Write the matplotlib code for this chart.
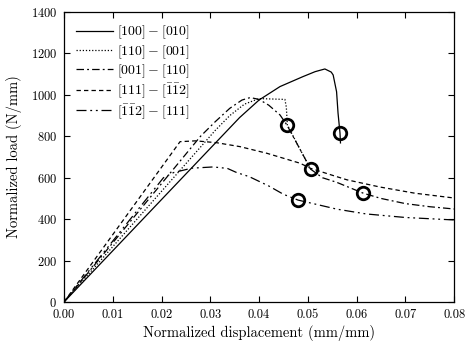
import matplotlib
matplotlib.use("Agg")
import matplotlib.pyplot as plt

plt.rcParams['font.family'] = 'serif'
plt.rcParams['font.serif'] = ['cmr10']
plt.rcParams['mathtext.fontset'] = 'cm'
plt.rcParams['axes.formatter.use_mathtext'] = True

# [100]-[010]
x_a = [0, 0.036, 0.040, 0.0443, 0.049, 0.0515, 0.0535, 0.0548, 0.0552, 0.0559, 0.0562, 0.0566, 0.0567]
y_a = [0, 890, 975, 1040, 1088, 1112, 1125, 1110, 1096, 1015, 912, 816, 768]
# [110]-[001]
x_b = [0, 0.031, 0.034, 0.037, 0.040, 0.0453, 0.0456, 0.0458, 0.048, 0.0506]
y_b = [0, 828, 900, 955, 982, 978, 940, 855, 755, 641]
# [001]-[110]
x_c = [0, 0.028, 0.031, 0.034, 0.0365, 0.0382, 0.040, 0.042, 0.0443, 0.0457, 0.048, 0.0506,
       0.053, 0.0559, 0.0614, 0.065, 0.070, 0.075, 0.080]
y_c = [0, 800, 870, 935, 975, 987, 978, 950, 903, 855, 755, 641,
       600, 578, 525, 500, 475, 460, 449]
# [111]-[-1-12]
x_d = [0, 0.0238, 0.027, 0.0313, 0.0361, 0.0416, 0.0484, 0.0506, 0.055, 0.058, 0.0648, 0.072, 0.080]
y_d = [0, 774, 778, 769, 750, 718, 670, 645, 612, 590, 555, 525, 502]
# [-1-12]-[111]
x_e = [0, 0.0204, 0.0225, 0.0262, 0.0306, 0.0335, 0.0354, 0.038, 0.042, 0.045, 0.048, 0.052,
       0.056, 0.062, 0.070, 0.080]
y_e = [0, 600, 625, 646, 652, 645, 625, 605, 560, 520, 492, 470,
       448, 425, 408, 396]

# circle markers
x_o = [0.0566, 0.0457, 0.0506, 0.0614, 0.048]
y_o = [816, 855, 643, 525, 492]

labels = [r'$[100]-[010]$', r'$[110]-[001]$', r'$[001]-[110]$',
          r'$[111]-[\bar{1}\bar{1}2]$', r'$[\bar{1}\bar{1}2]-[111]$']

fig = plt.figure(figsize=(4.74, 3.53), dpi=100)
ax = fig.add_axes([0.135, 0.1445, 0.823, 0.8215])

lw = 0.9
ax.plot(x_a, y_a, color='black', lw=lw, ls='-', label=labels[0])
ax.plot(x_b, y_b, color='black', lw=lw, ls=(0, (1, 1.5)), label=labels[1])
ax.plot(x_c, y_c, color='black', lw=lw, ls=(0, (6, 2.5, 1.5, 2.5)), label=labels[2])
ax.plot(x_d, y_d, color='black', lw=lw, ls=(0, (3.5, 2.5)), label=labels[3])
ax.plot(x_e, y_e, color='black', lw=lw, ls=(0, (8, 3, 1.5, 3, 1.5, 3)), label=labels[4])
ax.plot(x_o, y_o, ls='none', marker='o', ms=9, mfc='none', mec='black', mew=2)

ax.set_xlim(0, 0.08)
ax.set_ylim(0, 1400)
ax.set_xticks([0, 0.01, 0.02, 0.03, 0.04, 0.05, 0.06, 0.07, 0.08])
ax.set_xticklabels(['0.00', '0.01', '0.02', '0.03', '0.04', '0.05', '0.06', '0.07', '0.08'])
ax.set_yticks(range(0, 1401, 200))
ax.tick_params(direction='in', top=True, right=True, length=4, labelsize=9, pad=5)
for s in ax.spines.values():
    s.set_linewidth(0.9)

ax.set_xlabel('Normalized displacement (mm/mm)', fontsize=10.5, labelpad=3)
ax.set_ylabel('Normalized load (N/mm)', fontsize=10.5, labelpad=6)

ax.legend(loc='upper left', frameon=False, fontsize=10, handlelength=2.7,
          labelspacing=0.12, borderaxespad=0.45, handletextpad=0.25)

fig.savefig('out.png', dpi=100)
